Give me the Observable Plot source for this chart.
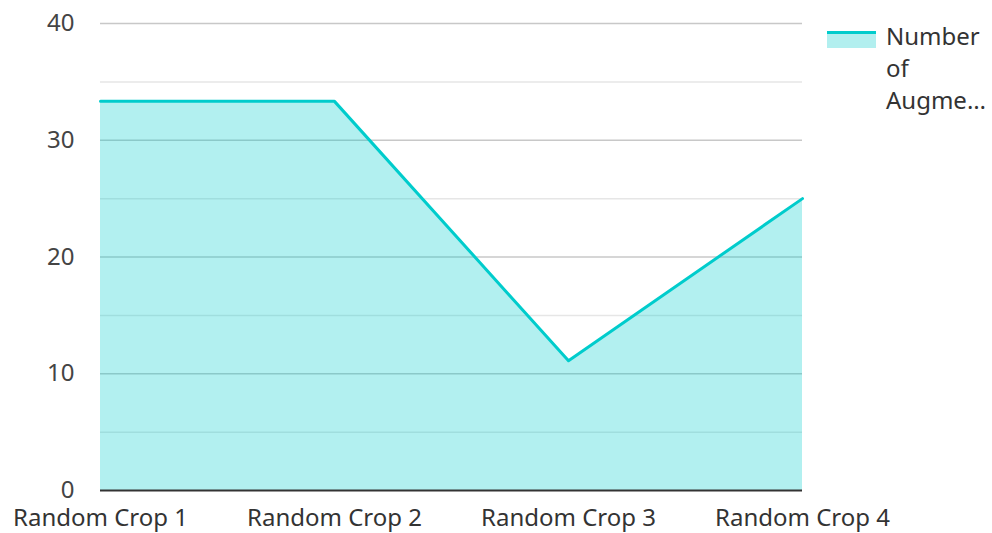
<!DOCTYPE html>
<html>
<head>
<meta charset="utf-8">
<script src="https://cdn.jsdelivr.net/npm/d3@7"></script>
<script src="https://cdn.jsdelivr.net/npm/@observablehq/plot@0.6"></script>
<style>
  html, body { margin: 0; padding: 0; background: #fff; }
  #wrap { position: relative; width: 992px; height: 533px; font-family: "Noto Sans", sans-serif; }
  #legend { position: absolute; left: 827px; top: 20px; display: flex; align-items: flex-start; color: #333; font-size: 24px; line-height: 32px; }
  #swatch { width: 49px; height: 17px; margin-top: 11px; background: #b2efef; border-top: 3px solid #00cccc; box-sizing: border-box; }
  #legend .txt { margin-left: 10px; width: 110px; }
</style>
</head>
<body>
<div id="wrap"></div>
<script>
const categories = ["Random Crop 1", "Random Crop 2", "Random Crop 3", "Random Crop 4"];
const values = [33.33, 33.33, 11.11, 25];
const majorTicks = [0, 10, 20, 30, 40];
const minorTicks = [5, 15, 25, 35];
const seriesName = "Number of Augme…";

const data = categories.map((c, i) => ({ cat: c, value: values[i] }));

const chart = Plot.plot({
  width: 992,
  height: 533,
  marginLeft: 100,
  marginRight: 190,
  marginTop: 23,
  marginBottom: 43,
  style: { fontFamily: "Noto Sans, sans-serif", fontSize: "24px", color: "#444", background: "#fff" },
  x: { type: "point", domain: categories, padding: 0, label: null },
  y: { domain: [0, 40], label: null },
  marks: [
    Plot.ruleY(minorTicks, { stroke: "#e6e6e6", strokeWidth: 1.5 }),
    Plot.ruleY(majorTicks.filter(d => d > 0), { stroke: "#c8c8c8", strokeWidth: 1.5 }),
    Plot.areaY(data, { x: "cat", y: "value", fill: "#00cccc", fillOpacity: 0.3 }),
    Plot.lineY(data, { x: "cat", y: "value", stroke: "#00cccc", strokeWidth: 3 }),
    Plot.ruleY([0], { stroke: "#333", strokeWidth: 2 }),
    Plot.axisX({ tickSize: 0, tickPadding: 18, fontSize: 24, fill: "#333" }),
    Plot.axisY(majorTicks, { tickSize: 0, tickPadding: 26, fontSize: 24, fill: "#444" })
  ]
});

const wrap = document.getElementById("wrap");
wrap.appendChild(chart);
const legend = document.createElement("div");
legend.id = "legend";
legend.innerHTML = '<div id="swatch"></div><div class="txt">' + seriesName.replace(/ /g, "<br>") + '</div>';
wrap.appendChild(legend);
</script>
</body>
</html>
